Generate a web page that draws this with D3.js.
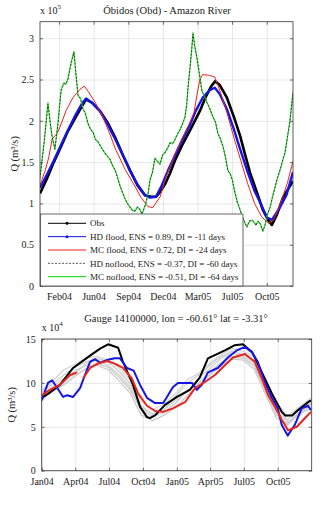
<!DOCTYPE html>
<html><head><meta charset="utf-8">
<script src="https://cdn.jsdelivr.net/npm/d3@7"></script>
<style>
body{margin:0;background:#fff}
svg{display:block}
text{font-family:"Liberation Serif","Times New Roman",serif;fill:#222}
</style></head>
<body><svg id="c" width="335" height="512"></svg>
<script>
// ---------- DATA (day offsets from 2004-01-01, discharge) ----------
// Top panel: Obidos, x10^5 m3/s
const obsDay = [0,20,40,60,80,100,120,133,150,173,195,217,240,260,283,303,321,335,347,361,375,390,410,433,450,462,480,495,506,520,540,560,578,592,607,627,644,659,670,684,702,731];
const obsQ   = [1.12,1.30,1.50,1.68,1.87,2.02,2.17,2.26,2.22,2.12,1.98,1.80,1.58,1.40,1.21,1.10,1.08,1.08,1.14,1.23,1.36,1.52,1.70,1.88,2.02,2.12,2.30,2.42,2.48,2.43,2.28,2.05,1.82,1.60,1.37,1.13,0.92,0.80,0.74,0.86,1.07,1.27];

const hdFloodDay = [0,20,40,60,80,100,120,133,150,173,195,217,240,260,280,303,318,335,350,370,390,410,433,450,470,490,505,520,540,560,578,600,620,636,656,670,693,712,731];
const hdFloodQ   = [1.19,1.35,1.52,1.70,1.88,2.05,2.20,2.27,2.22,2.12,1.96,1.78,1.58,1.40,1.24,1.10,1.07,1.08,1.20,1.40,1.58,1.76,1.95,2.12,2.28,2.37,2.40,2.32,2.14,1.90,1.66,1.38,1.15,1.01,0.83,0.80,0.95,1.10,1.38];

const mcFloodDay = [0,15,25,35,50,60,75,95,115,128,140,160,180,200,217,246,274,292,312,326,347,364,390,410,433,445,455,462,470,490,505,520,540,560,580,600,620,640,660,675,695,715,731];
const mcFloodQ   = [1.22,1.40,1.55,1.78,1.85,1.95,2.12,2.28,2.38,2.42,2.35,2.22,2.06,1.86,1.67,1.41,1.21,1.07,0.96,0.95,1.08,1.32,1.60,1.78,1.98,2.10,2.35,2.50,2.56,2.55,2.53,2.36,2.10,1.80,1.52,1.24,1.00,0.84,0.76,0.80,1.00,1.25,1.51];

const noDay = [0,12,23,30,35,43,52,61,69,75,81,90,98,104,110,117,124,131,139,146,153,160,168,176,182,190,202,210,217,224,231,238,246,253,260,267,274,281,289,294,298,302,306,312,318,325,332,340,347,354,361,368,376,383,390,398,405,412,419,424,428,433,438,442,447,454,461,468,475,483,490,500,507,514,521,529,536,543,549,555,562,570,578,585,592,598,605,613,620,624,630,636,644,650,657,665,672,678,685,693,702,708,714,722,731];
const mcNofloodQ = [1.32,1.75,2.22,1.95,1.82,1.65,1.98,2.38,2.46,2.44,2.52,2.71,2.84,2.55,2.30,2.28,2.14,2.10,1.96,1.90,1.86,1.78,1.74,1.69,1.64,1.60,1.53,1.46,1.40,1.32,1.21,1.14,1.05,1.00,0.95,0.92,0.90,0.96,0.92,0.88,0.90,0.96,1.00,1.12,1.28,1.38,1.55,1.50,1.48,1.58,1.62,1.66,1.74,1.72,1.78,1.84,1.90,1.96,2.05,2.20,2.42,2.62,2.85,3.07,2.90,2.75,2.55,2.36,2.30,2.22,2.15,2.05,1.98,1.85,1.78,1.69,1.55,1.40,1.36,1.30,1.15,1.02,0.92,0.84,0.76,0.72,0.78,0.80,0.76,0.74,0.78,0.76,0.66,0.74,0.86,0.96,1.08,1.18,1.29,1.40,1.53,1.62,1.77,2.00,2.35];
const hdNofloodQ = [1.30,1.73,2.20,1.97,1.80,1.66,1.96,2.36,2.45,2.45,2.50,2.69,2.83,2.57,2.31,2.26,2.15,2.08,1.97,1.89,1.87,1.77,1.75,1.68,1.65,1.59,1.54,1.45,1.41,1.31,1.22,1.13,1.06,0.99,0.96,0.91,0.91,0.95,0.93,0.87,0.91,0.95,1.01,1.11,1.29,1.37,1.54,1.51,1.47,1.59,1.61,1.67,1.73,1.73,1.77,1.85,1.89,1.97,2.04,2.21,2.41,2.63,2.84,3.05,2.91,2.74,2.56,2.35,2.31,2.21,2.16,2.04,1.99,1.84,1.79,1.68,1.56,1.39,1.37,1.29,1.16,1.01,0.93,0.83,0.77,0.71,0.79,0.79,0.77,0.73,0.79,0.75,0.67,0.73,0.87,0.95,1.09,1.17,1.30,1.39,1.54,1.61,1.78,1.99,2.33];

const topTickDates  = ["2004-02-25","2004-06-04","2004-09-12","2004-12-21","2005-03-31","2005-07-09","2005-10-17"];
const topTickLabels = ["Feb04","Jun04","Sep04","Dec04","Mar05","Jul05","Oct05"];
const topYTicks = [0,0.5,1,1.5,2,2.5,3];

const legendLabels = ["Obs","HD flood, ENS = 0.89, DI = -11 days","MC flood, ENS = 0.72, DI = -24 days","HD noflood, ENS = -0.37, DI = -60 days","MC noflood, ENS = -0.51, DI = -64 days"];

// Bottom panel: Gauge 14100000, x10^4 m3/s
const gObsDay = [0,22,50,85,131,158,180,207,220,247,266,285,293,307,334,366,401,428,450,496,523,545,570,596,623,650,659,678,694,721,729];
const gObsQ   = [8.3,8.9,9.8,11.7,13.1,13.9,14.4,14.0,12.4,9.8,7.3,6.1,6.0,6.3,7.5,8.4,9.2,10.6,12.8,13.7,14.3,14.4,13.5,11.2,8.8,6.7,6.3,6.3,6.9,7.8,8.0];

const gHdDay = [0,17,28,41,58,69,85,104,117,131,144,158,176,198,212,231,249,266,285,307,329,342,355,369,388,407,420,434,450,477,504,528,550,569,585,604,623,639,650,666,685,704,721,729];
const gHdQ   = [8.0,10.0,10.3,9.5,8.4,8.6,8.4,9.4,10.9,12.4,12.7,12.3,12.6,12.8,12.8,11.7,11.4,9.8,8.3,7.7,7.7,8.6,9.5,10.0,10.0,10.0,9.2,9.8,11.2,11.7,12.9,13.7,14.1,13.5,12.4,10.1,8.3,7.1,5.2,4.0,5.2,7.1,7.4,6.9];

const gMcDay = [1,22,50,77,96,98,112,131,152,177,198,220,244,261,285,307,329,355,388,415,442,469,496,518,550,577,596,613,631,650,667,691,713,729];
const gMcQ   = [8.6,9.2,9.8,10.9,11.2,null,10.5,11.7,12.2,12.5,12.2,11.7,10.5,8.8,7.4,6.8,6.7,7.1,7.8,9.4,10.1,10.9,12.0,12.9,13.3,12.4,10.5,8.6,7.3,5.8,4.6,5.0,6.0,6.7,7.4];

const ensDay = [0,30,60,90,120,150,180,210,240,270,300,330,365,395,425,455,485,515,545,575,605,635,665,695,730];
const ens1 = [8.9,9.9,10.9,11.8,12.4,12.8,12.4,11.3,9.9,7.4,6.4,6.9,8.6,10.0,10.9,12.0,13.0,13.6,13.2,12.6,10.0,7.2,5.8,6.8,7.9];
const ens2 = [8.2,9.0,9.8,10.8,11.6,12.2,11.8,10.6,9.2,6.9,6.2,6.6,7.8,9.2,10.0,11.2,12.3,13.0,12.8,12.0,9.2,6.4,5.2,6.4,7.8];
const ens3 = [9.1,10.2,11.5,12.1,12.9,13.0,12.6,11.7,10.3,7.9,7.0,7.5,8.9,10.4,11.1,12.2,13.2,13.9,13.6,13.0,10.6,7.8,6.2,7.2,8.3];
const ens4 = [8.0,9.3,10.1,11.4,12.0,12.0,11.5,10.2,8.8,6.3,5.7,6.3,7.3,8.6,9.8,10.9,12.0,12.7,12.6,11.6,8.8,6.0,5.4,6.6,7.0];
const ens5 = [8.5,9.6,10.5,11.0,12.2,12.6,12.0,10.9,9.5,7.1,6.5,6.9,8.1,9.0,10.6,11.6,12.8,13.4,13.0,12.3,9.6,6.8,5.6,6.2,7.6];

const botTickDates  = ["2004-01-01","2004-04-01","2004-07-01","2004-10-01","2005-01-01","2005-04-01","2005-07-01","2005-10-01"];
const botTickLabels = ["Jan04","Apr04","Jul04","Oct04","Jan05","Apr05","Jul05","Oct05"];
const botYTicks = [0,5,10,15];

// ---------- DRAW ----------
const svg = d3.select("#c");
const t0 = new Date(2004,0,1), t1 = new Date(2006,0,1);
const toDate = d => d3.timeDay.offset(t0, d);
const parse = d3.timeParse("%Y-%m-%d");
const zip = (days, vals) => days.map((d,i)=>({t:toDate(d), v:vals[i]}));

function panel(o){
  const x = d3.scaleTime().domain([t0,t1]).range([o.x0,o.x1]);
  const y = d3.scaleLinear().domain(o.ydom).range([o.y1,o.y0]);
  const g = svg.append("g");
  const cid = "clip"+o.id;
  svg.append("clipPath").attr("id",cid).append("rect")
    .attr("x",o.x0).attr("y",o.y0).attr("width",o.x1-o.x0).attr("height",o.y1-o.y0);
  const xt = o.xticks.map(parse);
  g.append("g").attr("transform",`translate(0,${o.y1})`)
    .call(d3.axisBottom(x).tickValues(xt).tickSize(-(o.y1-o.y0)).tickFormat(""))
    .call(s=>{s.select(".domain").remove(); s.selectAll("line").attr("stroke","#dcdcdc").attr("stroke-width",0.7);});
  g.append("g").attr("transform",`translate(${o.x0},0)`)
    .call(d3.axisLeft(y).tickValues(o.yticks).tickSize(-(o.x1-o.x0)).tickFormat(""))
    .call(s=>{s.select(".domain").remove(); s.selectAll("line").attr("stroke","#dcdcdc").attr("stroke-width",0.7);});
  const lines = g.append("g").attr("clip-path",`url(#${cid})`);
  const line = d3.line().defined(d=>d.v!=null).x(d=>x(d.t)).y(d=>y(d.v));
  o.series.forEach(s=>{
    lines.append("path").datum(zip(s.day,s.val)).attr("d",line).attr("fill","none")
      .attr("stroke",s.color).attr("stroke-width",s.w).attr("stroke-dasharray",s.dash||null)
      .attr("stroke-linejoin","round");
  });
  const ax = (gen, tr) => g.append("g").attr("transform",tr).call(gen)
      .call(s=>{s.select(".domain").remove(); s.selectAll("line").attr("stroke","#333").attr("stroke-width",0.7);
                s.selectAll("text").style("font-family","Liberation Serif").style("font-size","10px").attr("fill","#222");});
  ax(d3.axisBottom(x).tickValues(xt).tickSizeInner(-3).tickSizeOuter(0).tickPadding(7).tickFormat((d,i)=>o.xlabels[i]), `translate(0,${o.y1})`);
  ax(d3.axisTop(x).tickValues(xt).tickSizeInner(-3).tickSizeOuter(0).tickFormat(""), `translate(0,${o.y0})`);
  ax(d3.axisLeft(y).tickValues(o.yticks).tickSizeInner(-3).tickSizeOuter(0).tickPadding(6).tickFormat(d=>d), `translate(${o.x0},0)`);
  ax(d3.axisRight(y).tickValues(o.yticks).tickSizeInner(-3).tickSizeOuter(0).tickFormat(""), `translate(${o.x1},0)`);
  g.append("rect").attr("x",o.x0).attr("y",o.y0).attr("width",o.x1-o.x0).attr("height",o.y1-o.y0)
    .attr("fill","none").attr("stroke","#333").attr("stroke-width",0.8);
  const ex = g.append("text").attr("x",o.x0).attr("y",o.y0-8).style("font-size","10px").text("x 10");
  ex.append("tspan").attr("dy",-5).style("font-size","7px").text(o.exp);
  g.append("text").attr("x",o.tx).attr("y",o.ty).attr("text-anchor","middle").style("font-size","10.5px").text(o.title);
  g.append("text").attr("transform",`translate(${o.ylx},${(o.y0+o.y1)/2}) rotate(-90)`)
    .attr("text-anchor","middle").style("font-size","10.5px").text("Q (m³/s)");
  return {x,y,g};
}

const topPanel = panel({id:"t", x0:40, x1:293, y0:21.7, y1:286, ydom:[0,3.2], xticks:topTickDates, xlabels:topTickLabels, yticks:topYTicks,
  exp:"5", title:"Óbidos (Obd) - Amazon River", tx:167, ty:14, ylx:18,
  series:[
    {day:obsDay, val:obsQ, color:"#000", w:2.6},
    {day:hdFloodDay, val:hdFloodQ, color:"#1515e6", w:2.4},
    {day:mcFloodDay, val:mcFloodQ, color:"#ee2020", w:1},
    {day:noDay, val:mcNofloodQ, color:"#30e030", w:1.2},
    {day:noDay, val:hdNofloodQ, color:"#111", w:0.7, dash:"2,1.5"}
  ]});

const lg = topPanel.g.append("g");
lg.append("rect").attr("x",40.5).attr("y",214).attr("width",202.5).attr("height",72)
  .attr("fill","#fff").attr("stroke","#444").attr("stroke-width",0.8);
const legStyle = [
  {color:"#000", w:1, dot:true},
  {color:"#1515e6", w:1, dot:true},
  {color:"#ee2020", w:1},
  {color:"#111", w:0.7, dash:"2,1.5"},
  {color:"#30e030", w:1.2}
];
legendLabels.forEach((lab,i)=>{
  const yy = 223.3 + i*13.35;
  const s = legStyle[i];
  lg.append("line").attr("x1",48).attr("x2",86).attr("y1",yy).attr("y2",yy)
    .attr("stroke",s.color).attr("stroke-width",s.w).attr("stroke-dasharray",s.dash||null);
  if(s.dot) lg.append("circle").attr("cx",67).attr("cy",yy).attr("r",1.5).attr("fill",s.color);
  lg.append("text").attr("x",90).attr("y",yy).attr("dy","0.35em").style("font-size","9px").text(lab);
});

panel({id:"b", x0:41.7, x1:311.7, y0:339, y1:470.7, ydom:[0,15], xticks:botTickDates, xlabels:botTickLabels, yticks:botYTicks,
  exp:"4", title:"Gauge 14100000, lon = -60.61° lat = -3.31°", tx:176, ty:322, ylx:15,
  series:[
    {day:ensDay, val:ens1, color:"#cfcfcf", w:1.3},
    {day:ensDay, val:ens2, color:"#c8c8c8", w:1.3},
    {day:ensDay, val:ens3, color:"#d4d4d4", w:1.3},
    {day:ensDay, val:ens4, color:"#cbcbcb", w:1.3},
    {day:ensDay, val:ens5, color:"#d0d0d0", w:1.3},
    {day:gObsDay, val:gObsQ, color:"#000", w:2},
    {day:gHdDay, val:gHdQ, color:"#1515e6", w:2},
    {day:gMcDay, val:gMcQ, color:"#e8241e", w:2}
  ]});
</script>
</body></html>
